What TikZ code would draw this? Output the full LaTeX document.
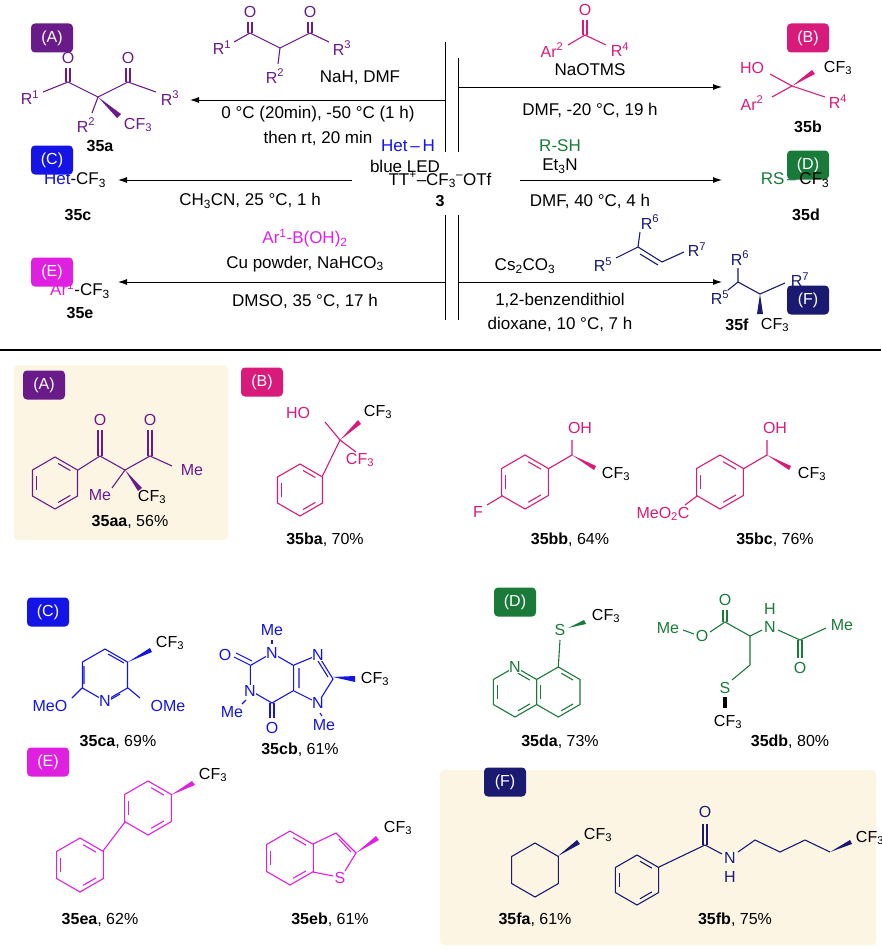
\documentclass[tikz,border=0pt]{standalone}
\usepackage{fontspec}
\setmainfont{Liberation Sans}
\usetikzlibrary{arrows.meta}
\definecolor{cA}{HTML}{6A1B8A}
\definecolor{cB}{HTML}{D81B7A}
\definecolor{cC}{HTML}{1414E6}
\definecolor{cD}{HTML}{1A7A3A}
\definecolor{cE}{HTML}{E020E0}
\definecolor{cF}{HTML}{1A1A70}
\definecolor{panel}{HTML}{FCF5E4}
\newcommand\benz[3]{\draw (#1,#2) +(30:#3) -- +(90:#3) -- +(150:#3) -- +(210:#3) -- +(270:#3) -- +(330:#3) -- cycle;
 \foreach \a in {30,150,270} \draw (#1,#2) +(\a+9:0.76*#3) -- +(\a+51:0.76*#3);}
\newcommand\chex[3]{\draw (#1,#2) +(30:#3) -- +(90:#3) -- +(150:#3) -- +(210:#3) -- +(270:#3) -- +(330:#3) -- cycle;}
\newcommand\sub[1]{\textsubscript{#1}}
\newcommand\sups[1]{\textsuperscript{#1}}
\begin{document}
\begin{tikzpicture}[x=1pt,y=-1pt,line width=1.1pt,
  every node/.style={font=\fontsize{16}{18}\selectfont,inner sep=1pt},
  cond/.style={font=\fontsize{17}{19}\selectfont},
  cmpd/.style={font=\bfseries\fontsize{16}{18}\selectfont},
  tag/.style={rounded corners=4pt,minimum width=42pt,minimum height=29pt,inner sep=1pt,text=white,font=\fontsize{16}{18}\selectfont},
  rx/.style={-{Latex[length=9pt,width=6pt]},line width=0.9pt},
  atm/.style={fill=white,inner sep=0.5pt}]
\useasboundingbox (0,0) rectangle (881,950);
\fill[white] (0,0) rectangle (881,950);
% ---------- top scheme ----------
\node[tag,fill=cA] (tA) at (52,38) {(A)};
\node[tag,fill=cB] (tB) at (808,38) {(B)};
\node[tag,fill=cC] (tC) at (52,160) {(C)};
\node[tag,fill=cD] (tD) at (808,165) {(D)};
\node[tag,fill=cE] (tE) at (52,272) {(E)};
\node[tag,fill=cF] (tF) at (808,300) {(F)};
\draw[line width=0.9pt] (445,42) -- (445,152) (458,58) -- (458,152) (445,215) -- (445,320) (458,215) -- (458,320);
\coordinate (aA0) at (445,100); \coordinate (aA1) at (190,100);
\coordinate (aB0) at (458,87); \coordinate (aB1) at (722,87);
\coordinate (aC0) at (352,180); \coordinate (aC1) at (118,180);
\coordinate (aD0) at (520,180); \coordinate (aD1) at (722,180);
\coordinate (aE0) at (445,282); \coordinate (aE1) at (118,282);
\coordinate (aF0) at (458,282); \coordinate (aF1) at (722,282);
\foreach \s/\e in {aA0/aA1,aB0/aB1,aC0/aC1,aD0/aD1,aE0/aE1,aF0/aF1} \draw[rx] (\s) -- (\e);
\node[cond] (tt) at (440,180) {TT\sups{+}–CF\sub{3}\sups{–}OTf};
\node[cmpd] (n3) at (440,201) {3};
% A
\node[cond] (cA1) at (318,114) {0 °C (20min), -50 °C (1 h)};
\node[cond] (cA2) at (318,138) {then rt, 20 min};
\node[cond] (cA3) at (360,78) {NaH, DMF};
\begin{scope}[draw=cA,text=cA]
\node (rR1) at (222,48) {R\sups{1}}; \node (rO1) at (250,12) {O}; \node (rO2) at (310,12) {O};
\node (rR2) at (275,76) {R\sups{2}}; \node (rR3) at (342,48) {R\sups{3}};
\draw (234,42) -- (250,33) -- (280,48) -- (310,33) -- (329,42);
\draw (248,33) -- (248,22) (252,33) -- (252,22) (308,33) -- (308,22) (312,33) -- (312,22);
\draw (280,48) -- (278,64);
\node (pR1) at (30,98) {R\sups{1}}; \node (pO1) at (68,58) {O}; \node (pO2) at (128,58) {O};
\node (pR3) at (170,98) {R\sups{3}}; \node (pR2) at (86,125) {R\sups{2}}; \node (pCF) at (138,125) {CF\sub{3}};
\draw (43,92) -- (68,82) -- (98,97) -- (128,82) -- (156,92);
\draw (66,82) -- (66,68) (70,82) -- (70,68) (126,82) -- (126,68) (130,82) -- (130,68);
\draw (98,97) -- (92,113); \fill[cA] (98,97) -- (121,114) -- (117,118) -- cycle;
\end{scope}
\node[cmpd] (l35a) at (100,146) {35a};
% B
\node[cond] (cB1) at (590,70) {NaOTMS};
\node[cond] (cB2) at (590,110) {DMF, -20 °C, 19 h};
\begin{scope}[draw=cB,text=cB]
\node (bAr) at (552,50) {Ar\sups{2}}; \node (bO) at (585,10) {O}; \node (bR4) at (620,50) {R\sups{4}};
\draw (568,45) -- (585,35) -- (606,45); \draw (583,35) -- (583,20) (587,35) -- (587,20);
\node (qHO) at (752,68) {HO}; \node (qAr) at (752,103) {Ar\sups{2}}; \node (qR4) at (838,102) {R\sups{4}};
\draw (770,74) -- (792,86); \draw (792,86) -- (772,97); \draw (792,86) -- (825,97);
\fill[cB] (792,86) -- (812,70) -- (815,74) -- cycle;
\end{scope}
\node (qCF) at (838,68) {CF\sub{3}};
\node[cmpd] (l35b) at (808,127) {35b};
% C
\node[cond,text=cC] (cC0) at (408,146) {Het\,–\,H};
\node[cond] (cC1) at (405,166) {blue LED};
\node[cond] (cC2) at (250,201) {CH\sub{3}CN, 25 °C, 1 h};
\node[cond,text=cC] (pC) at (75,180) {Het\textcolor{black}{-CF\sub{3}}};
\node[cmpd] (l35c) at (78,215) {35c};
% D
\node[cond,text=cD] (cD0) at (560,146) {R-SH};
\node[cond] (cD1) at (560,166) {Et\sub{3}N};
\node[cond] (cD2) at (590,201) {DMF, 40 °C, 4 h};
\node[cond,text=cD] (pD) at (795,180) {RS\,–\,\textcolor{black}{CF\sub{3}}};
\node[cmpd] (l35d) at (806,215) {35d};
% E
\node[cond,text=cE] (cE0) at (305,238) {Ar\sups{1}-B(OH)\sub{2}};
\node[cond] (cE1) at (305,264) {Cu powder, NaHCO\sub{3}};
\node[cond] (cE2) at (305,301) {DMSO, 35 °C, 17 h};
\node[cond] (pE) at (80,290) {\textcolor{cE}{Ar\sups{1}}-CF\sub{3}};
\node[cmpd] (l35e) at (80,313) {35e};
% F
\node[cond] (cF0) at (525,266) {Cs\sub{2}CO\sub{3}};
\node[cond] (cF1) at (560,300) {1,2-benzendithiol};
\node[cond] (cF2) at (560,324) {dioxane, 10 °C, 7 h};
\begin{scope}[draw=cF,text=cF]
\node (fR6) at (650,222) {R\sups{6}}; \node (fR5) at (603,265) {R\sups{5}}; \node (fR7) at (697,250) {R\sups{7}};
\draw (640,232) -- (638,247) -- (616,258); \draw (638,247) -- (662,262) -- (684,252); \draw (640,254) -- (658,265);
\node (gR6) at (740,258) {R\sups{6}}; \node (gR5) at (720,298) {R\sups{5}}; \node (gR7) at (800,280) {R\sups{7}};
\draw (738,268) -- (738,282) -- (728,290); \draw (738,282) -- (760,294) -- (785,283);
\fill[cF] (760,294) -- (763,314) -- (757,314) -- cycle;
\end{scope}
\node (gCF) at (775,325) {CF\sub{3}};
\node[cmpd] (l35f) at (737,325) {35f};
\draw[line width=1.8pt] (0,350) -- (881,350);
% ---------- bottom ----------
\fill[panel,rounded corners=4pt] (14,365) rectangle (228,540);
\fill[panel,rounded corners=4pt] (440,770) rectangle (876,945);
\node[tag,fill=cA] (bA) at (44,385) {(A)};
\node[tag,fill=cB] (bB) at (262,382) {(B)};
\node[tag,fill=cC] (bC) at (48,612) {(C)};
\node[tag,fill=cD] (bD) at (515,602) {(D)};
\node[tag,fill=cE] (bE) at (48,762) {(E)};
\node[tag,fill=cF] (bF) at (505,782) {(F)};
% 35aa
\begin{scope}[draw=cA,text=cA]
\benz{55}{483}{26}
\node (aO1) at (100,420) {O}; \node (aO2) at (150,420) {O}; \node (aMe1) at (192,470) {Me}; \node (aMe2) at (100,495) {Me};
\draw (78,470) -- (100,456) -- (125,470) -- (150,456) -- (172,466);
\draw (98,456) -- (98,430) (102,456) -- (102,430) (148,456) -- (148,430) (152,456) -- (152,430);
\draw (125,470) -- (112,488); \fill[cA] (125,470) -- (142,488) -- (138,491) -- cycle;
\end{scope}
\node (aCF) at (152,497) {CF\sub{3}};
\node (l35aa) at (130,522) {\textbf{35aa}, 56\%};
% 35ba
\begin{scope}[draw=cB,text=cB]
\benz{300}{490}{26}
\node (baHO) at (298,413) {HO}; \node (baCF2) at (360,460) {CF\sub{3}};
\draw (322,477) -- (340,440) -- (325,422); \draw (340,440) -- (356,452);
\fill[cB] (340,440) -- (358,420) -- (361,424) -- cycle;
\end{scope}
\node (baCF1) at (378,412) {CF\sub{3}};
\node (l35ba) at (325,540) {\textbf{35ba}, 70\%};
% 35bb
\begin{scope}[draw=cB,text=cB]
\benz{525}{482}{27}
\node (bbF) at (478,512) {F}; \node (bbOH) at (580,428) {OH};
\draw (502,496) -- (487,505); \draw (548,469) -- (572,455) -- (572,440);
\fill[cB] (572,455) -- (596,466) -- (594,470) -- cycle;
\end{scope}
\node (bbCF) at (616,474) {CF\sub{3}};
\node (l35bb) at (570,540) {\textbf{35bb}, 64\%};
% 35bc
\begin{scope}[draw=cB,text=cB]
\benz{720}{482}{27}
\node (bcE) at (663,514) {MeO\sub{2}C}; \node (bcOH) at (775,428) {OH};
\draw (697,496) -- (685,505); \draw (743,469) -- (767,455) -- (767,440);
\fill[cB] (767,455) -- (791,466) -- (789,470) -- cycle;
\end{scope}
\node (bcCF) at (812,474) {CF\sub{3}};
\node (l35bc) at (775,540) {\textbf{35bc}, 76\%};
% 35ca
\begin{scope}[draw=cC,text=cC]
\chex{105}{675}{26}
\draw (84,666) -- (84,684) (108,654) -- (124,663) (120,694) -- (108,701);
\node[atm] (caN) at (105,701) {N}; \node (caO1) at (50,706) {MeO}; \node (caO2) at (168,706) {OMe};
\draw (82,688) -- (72,698); \draw (128,688) -- (140,698);
\fill[cC] (128,662) -- (150,648) -- (152,652) -- cycle;
\end{scope}
\node (caCF) at (170,643) {CF\sub{3}};
\node (l35ca) at (118,742) {\textbf{35ca}, 69\%};
% 35cb
\begin{scope}[draw=cC,text=cC]
\chex{272}{678}{25}
\draw (294,665) -- (318,655) -- (333,679) -- (318,703) -- (294,691);
\draw (299,668) -- (299,688) (318,661) -- (328,677);
\fill[cC] (333,677) -- (355,676) -- (355,682) -- cycle;
\node[atm] (cbN1) at (272,653) {N}; \node[atm] (cbN2) at (250,691) {N}; \node[atm] (cbN3) at (318,655) {N}; \node[atm] (cbN4) at (318,703) {N};
\node (cbMe1) at (272,630) {Me}; \node (cbMe2) at (232,712) {Me}; \node (cbMe3) at (324,725) {Me};
\node (cbO1) at (225,655) {O}; \node (cbO2) at (272,728) {O};
\draw (272,644) -- (272,640); \draw (250,665) -- (234,657) (252,661) -- (236,653);
\draw (270,703) -- (270,718) (274,703) -- (274,718); \draw (320,713) -- (322,716); \draw (246,700) -- (242,704);
\end{scope}
\node (cbCF) at (375,679) {CF\sub{3}};
\node (l35cb) at (300,750) {\textbf{35cb}, 61\%};
% 35da
\begin{scope}[draw=cD,text=cD]
\benz{515}{692}{25}
\benz{558.3}{692}{25}
\node[atm] (daN) at (515,667) {N}; \node (daS) at (560,630) {S};
\draw (558.3,667) -- (560,640);
\fill[cD] (568,628) -- (584,620) -- (586,624) -- cycle;
\end{scope}
\node (daCF) at (606,616) {CF\sub{3}};
\node (l35da) at (560,742) {\textbf{35da}, 73\%};
% 35db
\begin{scope}[draw=cD,text=cD]
\node (dbMe) at (668,628) {Me}; \node (dbO) at (702,636) {O}; \node (dbO2) at (725,600) {O};
\node (dbN) at (770,627) {N}; \node (dbH) at (770,609) {H}; \node (dbO3) at (800,668) {O}; \node (dbMe2) at (842,625) {Me};
\node (dbS) at (725,688) {S};
\draw (683,630) -- (694,634); \draw (710,632) -- (725,622) -- (750,636) -- (762,630); \draw (723,622) -- (723,610) (727,622) -- (727,610);
\draw (778,630) -- (800,640) -- (826,628); \draw (798,640) -- (798,658) (802,640) -- (802,658);
\draw (750,636) -- (750,665) -- (732,680); \fill[black] (723,697) rectangle (727,708);
\end{scope}
\node (dbCF) at (728,722) {CF\sub{3}};
\node (l35db) at (790,742) {\textbf{35db}, 80\%};
% 35ea
\begin{scope}[draw=cE,text=cE]
\benz{80}{865}{27}
\benz{148}{808}{27}
\draw (103,851) -- (125,822);
\fill[cE] (171,795) -- (192,781) -- (195,785) -- cycle;
\end{scope}
\node (eaCF) at (213,775) {CF\sub{3}};
\node (l35ea) at (100,920) {\textbf{35ea}, 62\%};
% 35eb
\begin{scope}[draw=cE,text=cE]
\benz{290}{858}{27}
\node[atm] (ebS) at (340,878) {S};
\draw (313,844) -- (336,833) -- (356,853) -- (345,871); \draw (313,872) -- (333,876);
\draw (339,839) -- (351,852);
\fill[cE] (356,853) -- (376,836) -- (379,840) -- cycle;
\end{scope}
\node (ebCF) at (398,828) {CF\sub{3}};
\node (l35eb) at (330,920) {\textbf{35eb}, 61\%};
% 35fa
\begin{scope}[draw=cF,text=cF]
\chex{535}{870}{27}
\fill[cF] (558,856) -- (577,840) -- (580,844) -- cycle;
\end{scope}
\node (faCF) at (598,835) {CF\sub{3}};
\node (l35fa) at (535,920) {\textbf{35fa}, 61\%};
% 35fb
\begin{scope}[draw=cF,text=cF]
\benz{637}{880}{25}
\node (fbO) at (705,812) {O}; \node[atm] (fbN) at (730,858) {N}; \node (fbH) at (730,877) {H};
\draw (659,867) -- (705,845) -- (722,854); \draw (703,845) -- (703,824) (707,845) -- (707,824);
\draw (738,852) -- (755,840) -- (780,852) -- (805,840) -- (830,852);
\fill[cF] (830,852) -- (850,840) -- (852,844) -- cycle;
\end{scope}
\node (fbCF) at (870,838) {CF\sub{3}};
\node (l35fb) at (735,920) {\textbf{35fb}, 75\%};
\end{tikzpicture}
\end{document}
